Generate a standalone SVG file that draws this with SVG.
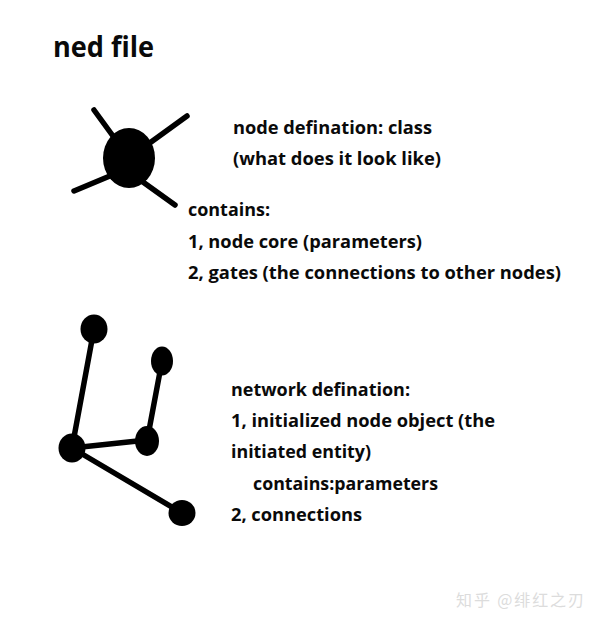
<svg xmlns="http://www.w3.org/2000/svg" width="600" height="626" viewBox="0 0 600 626">
<style>
text{font-family:"Open Sans","Noto Sans","Noto Sans CJK SC",sans-serif;font-weight:700;fill:#0a0a0a;font-size:18px}
.t{font-size:28px}
.w{font-size:16px;font-weight:400;fill:#dcdcdc;font-family:"Noto Sans CJK SC","Noto Sans",sans-serif}
.c line{stroke:#000;stroke-linecap:round}
.s line{stroke-width:5.5}
ellipse{fill:#000}
</style>
<rect width="600" height="626" fill="#fff"/>
<g id="labels">
<text class="t" x="53" y="57" textLength="101" lengthAdjust="spacingAndGlyphs">ned file</text>
<text x="233" y="134" textLength="199" lengthAdjust="spacingAndGlyphs">node defination: class</text>
<text x="233" y="165" textLength="208" lengthAdjust="spacingAndGlyphs">(what does it look like)</text>
<text x="188" y="216" textLength="82" lengthAdjust="spacingAndGlyphs">contains:</text>
<text x="188" y="248" textLength="234" lengthAdjust="spacingAndGlyphs">1, node core (parameters)</text>
<text x="188" y="279" textLength="373" lengthAdjust="spacingAndGlyphs">2, gates (the connections to other nodes)</text>
<text x="231" y="396" textLength="179" lengthAdjust="spacingAndGlyphs">network defination:</text>
<text x="231" y="427" textLength="264" lengthAdjust="spacingAndGlyphs">1, initialized node object (the</text>
<text x="231" y="458" textLength="140" lengthAdjust="spacingAndGlyphs">initiated entity)</text>
<text x="253" y="490" textLength="185" lengthAdjust="spacingAndGlyphs">contains:parameters</text>
<text x="231" y="521" textLength="131" lengthAdjust="spacingAndGlyphs">2, connections</text>
<text class="w" x="456" y="606" textLength="128">知乎 @绯红之刃</text>
</g>
<g id="connectors" class="c s">
<line x1="94" y1="110" x2="129" y2="158"/>
<line x1="187" y1="116" x2="129" y2="158"/>
<line x1="74" y1="191" x2="129" y2="168"/>
<line x1="175" y1="205" x2="129" y2="172"/>
<line x1="72" y1="448" x2="94" y2="329"/>
<line x1="72" y1="448" x2="147" y2="440"/>
<line x1="147" y1="441" x2="162" y2="361"/>
<line x1="72" y1="448" x2="182" y2="513"/>
</g>
<g id="node-core"><ellipse cx="129" cy="158" rx="26" ry="30"/></g>
<g id="node-a"><ellipse cx="94" cy="329" rx="13.5" ry="14.5"/></g>
<g id="node-b"><ellipse cx="162" cy="361" rx="11" ry="14.5"/></g>
<g id="node-c"><ellipse cx="147" cy="441" rx="12" ry="15"/></g>
<g id="node-d"><ellipse cx="72" cy="448" rx="13.5" ry="14.5"/></g>
<g id="node-e"><ellipse cx="182" cy="513" rx="13.5" ry="13"/></g>
</svg>
